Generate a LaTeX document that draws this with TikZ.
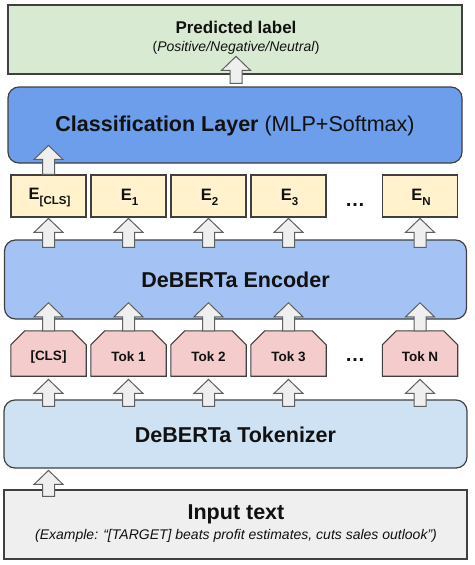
\documentclass[tikz,border=0pt]{standalone}
\usepackage{fontspec}
\setmainfont{Liberation Sans}
\usetikzlibrary{calc,backgrounds}
\definecolor{predfill}{HTML}{D9EAD3}
\definecolor{clsfill}{HTML}{6D9EEB}
\definecolor{encfill}{HTML}{A4C2F4}
\definecolor{tkzfill}{HTML}{CFE2F3}
\definecolor{inpfill}{HTML}{EFEFEF}
\definecolor{efill}{HTML}{FFF2CC}
\definecolor{tokfill}{HTML}{F4CCCC}
\definecolor{strk}{HTML}{404040}
\definecolor{arrstrk}{HTML}{5F5F5F}
\definecolor{arrfill}{HTML}{EFEFEF}
\definecolor{txt}{HTML}{111111}
\newcommand\tokbox[3]{%
  \node[tokn] (#1) at (#2,353.5) {};
  \filldraw[tokstyle] (#1.south west) -- ($(#1.north west)+(0,14)$) -- ($(#1.north west)+(14,0)$)
     -- ($(#1.north east)+(-14,0)$) -- ($(#1.north east)+(0,14)$) -- (#1.south east) -- cycle;
  \node[toktext] (#1t) at ($(#1.center)+(0,3.5)$) {#3};}
\newcommand\ebox[3]{%
  \node[ebx] (#1) at (#2,196) {};
  \node[etext] (#1t) at ($(#1.center)+(1,1.5)$) {E\raisebox{-4.5pt}{\fontsize{11.5}{11.5}\selectfont #3}};}
\begin{document}
\begin{tikzpicture}[x=1pt,y=-1pt,
  bigbox/.style={draw=strk, line width=1.2pt, inner sep=0pt},
  roundbox/.style={bigbox, rounded corners=11pt},
  tokn/.style={minimum width=75pt, minimum height=45pt, inner sep=0pt},
  tokstyle/.style={draw=strk, fill=tokfill, line width=1.1pt},
  toktext/.style={font=\fontsize{13.5}{13.5}\selectfont\bfseries, text=txt, inner sep=0pt},
  ebx/.style={draw=strk, fill=efill, line width=1.1pt, minimum width=75pt, minimum height=42pt, inner sep=0pt},
  etext/.style={font=\fontsize{16.5}{16.5}\selectfont\bfseries, text=txt, inner sep=0pt},
  bigtext/.style={font=\fontsize{21.5}{21.5}\selectfont, text=txt, inner sep=0pt},
  smalltext/.style={font=\fontsize{14}{14}\selectfont\itshape, text=txt, inner sep=0pt},
  dots/.style={font=\fontsize{20}{20}\selectfont\bfseries, text=txt, inner sep=0pt, anchor=base},
  arrstyle/.style={draw=arrstrk, fill=arrfill, line width=1pt, line join=miter},
  pics/uparr/.style={code={\filldraw[arrstyle] (-6,0) -- (-6,14-#1) -- (-14.5,14-#1) -- (0,-#1)
      -- (14.5,14-#1) -- (6,14-#1) -- (6,0) -- cycle;}}]
\useasboundingbox (0,0) rectangle (474,565);

% Predicted label
\node[bigbox, fill=predfill, minimum width=454pt, minimum height=69pt] (pred) at (235,39.5) {};
\node[font=\fontsize{17}{17}\selectfont\bfseries, text=txt, inner sep=0pt] (predt) at (236,27) {Predicted label};
\node[font=\fontsize{14}{14}\selectfont, text=txt, inner sep=0pt] (predsub) at (236,48) {(\textit{Positive/Negative/Neutral})};

% Classification layer
\node[roundbox, fill=clsfill, minimum width=454pt, minimum height=76pt] (cls) at (235,125) {};
\node[bigtext] (clst) at (235,126) {\textbf{Classification Layer} (MLP+Softmax)};

% Embeddings
\ebox{ecls}{48.5}{[CLS]}
\ebox{e1}{128.5}{1}
\ebox{e2}{208.5}{2}
\ebox{e3}{288.5}{3}
\ebox{en}{420}{N}
\node[dots] (edots) at (355,206) {…};

% Encoder
\node[roundbox, fill=encfill, minimum width=462pt, minimum height=79pt] (enc) at (235.5,279.5) {};
\node[bigtext, font=\fontsize{21.5}{21.5}\selectfont\bfseries] (enct) at (235.5,280) {DeBERTa Encoder};

% Tokens
\tokbox{tok0}{48.5}{[CLS]}
\tokbox{tok1}{128.5}{Tok 1}
\tokbox{tok2}{208.5}{Tok 2}
\tokbox{tok3}{288.5}{Tok 3}
\tokbox{tokn}{420}{Tok N}
\node[dots] (tdots) at (355,361) {…};

% Tokenizer
\node[roundbox, fill=tkzfill, minimum width=463pt, minimum height=68pt] (tkz) at (235.5,434) {};
\node[bigtext, font=\fontsize{21.5}{21.5}\selectfont\bfseries] (tkzt) at (235.5,435) {DeBERTa Tokenizer};

% Input text
\node[bigbox, fill=inpfill, minimum width=463pt, minimum height=69pt] (inp) at (235.5,524.5) {};
\node[bigtext, font=\fontsize{21.5}{21.5}\selectfont\bfseries] (inpt) at (236,514) {Input text};
\node[smalltext] (inpsub) at (236,536) {(Example: “[TARGET] beats profit estimates, cuts sales outlook”)};

% Arrows
\pic at ($(cls.north)+(1,-3)$) {uparr=27};
\pic at (ecls.north) {uparr=29};
\foreach \n in {ecls,e1,e2,e3,en}{
  \pic at ($(\n.south |- enc.north)+(0,8)$) {uparr=29};
}
\foreach \n in {tok0,tok1,tok2,tok3,tokn}{
  \pic at (\n.north) {uparr=28};
  \pic at ($(\n.south |- tkz.north)+(0,7)$) {uparr=27};
}
\pic at ($(tok0.south |- inp.north)+(0,7)$) {uparr=26};
\end{tikzpicture}
\end{document}
